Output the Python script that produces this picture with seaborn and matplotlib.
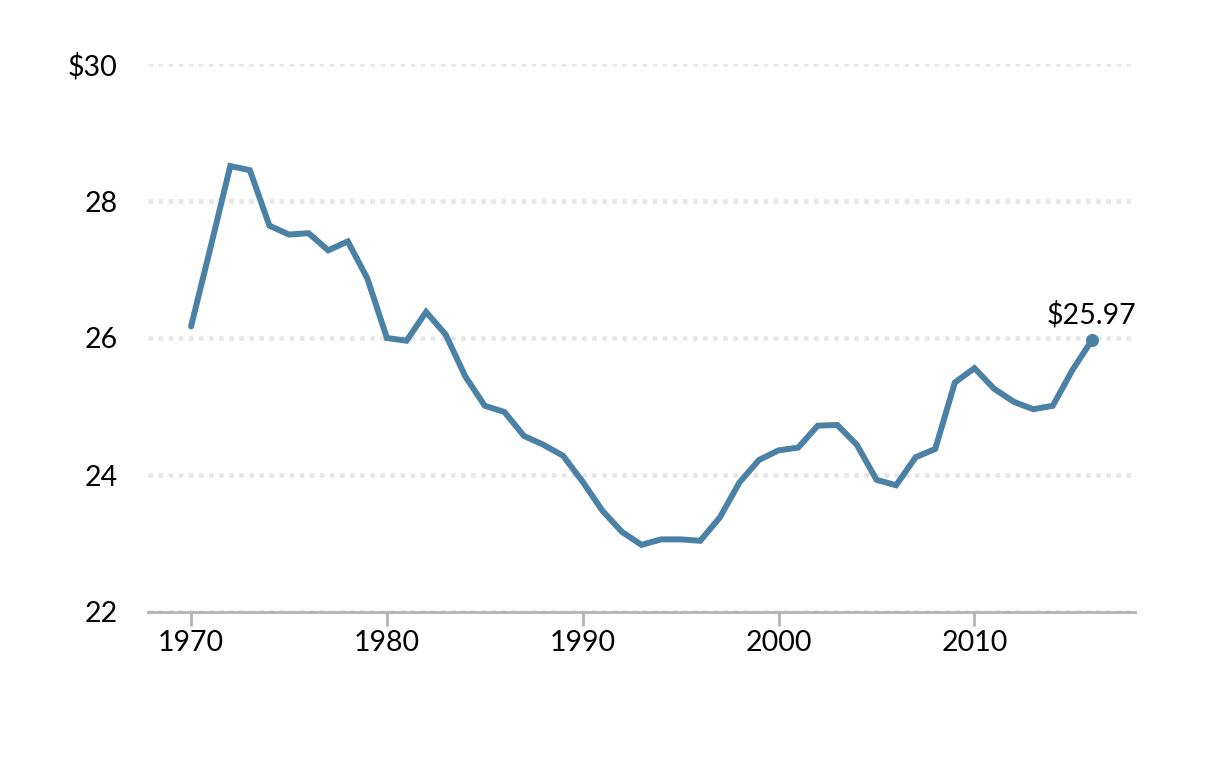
import matplotlib
matplotlib.use("Agg")
import matplotlib.pyplot as plt
import seaborn as sns
import pandas as pd

# hourly values
years = list(range(1970, 2017))
values = [
    26.17, 27.33, 28.51, 28.45, 27.64, 27.51, 27.53, 27.28, 27.41, 26.87,
    26.00, 25.96, 26.38, 26.05, 25.44, 25.01, 24.92, 24.57, 24.44, 24.28,
    23.90, 23.48, 23.17, 22.98, 23.06, 23.06, 23.04, 23.38, 23.89, 24.22,
    24.36, 24.40, 24.72, 24.73, 24.44, 23.93, 23.85, 24.26, 24.38, 25.35,
    25.56, 25.26, 25.07, 24.96, 25.01, 25.53, 25.97,
]
y_ticks = [22, 24, 26, 28, 30]
y_labels = ["22", "24", "26", "28", "$30"]
x_ticks = [1970, 1980, 1990, 2000, 2010]
end_label = "$25.97"

line_color = "#4a81a5"
font_size = 20.5

sns.set_theme(style="white")
plt.rcParams["font.family"] = ["Lato", "DejaVu Sans"]

df = pd.DataFrame({"year": years, "value": values})

fig = plt.figure(figsize=(12.16, 7.61), dpi=100)
ax = fig.add_axes([148 / 1216, 1 - 612 / 761, (1135 - 148) / 1216, (612 - 64) / 761])

# dotted gridlines
for t in y_ticks:
    ax.axhline(t, color="#e6e6e6", lw=3.3, linestyle=(0, (1.0, 1.2)), zorder=0)

sns.lineplot(data=df, x="year", y="value", ax=ax, color=line_color,
             linewidth=4.3, solid_joinstyle="miter", solid_capstyle="round")
ax.scatter([years[-1]], [values[-1]], s=70, color=line_color, zorder=3)
ax.annotate(end_label, (years[-1], values[-1]), xytext=(0, 8),
            textcoords="offset points", ha="center", va="bottom",
            fontsize=font_size, color="black")

ax.set_xlim(1967.8, 2018.2)
ax.set_ylim(22, 30)
ax.set_yticks(y_ticks)
ax.set_yticklabels(y_labels)
ax.set_xticks(x_ticks)
ax.set_xlabel("")
ax.set_ylabel("")

for side in ["top", "right", "left"]:
    ax.spines[side].set_visible(False)
ax.spines["bottom"].set_color("#b3b3b3")
ax.spines["bottom"].set_linewidth(2)
ax.spines["bottom"].set_zorder(1)

ax.tick_params(axis="y", length=0, pad=22, labelsize=font_size, labelcolor="black")
ax.tick_params(axis="x", length=10, width=2, color="#b3b3b3", pad=3,
               labelsize=font_size, labelcolor="black", bottom=True)
ax.grid(False)

fig.savefig("out.png", dpi=100)
